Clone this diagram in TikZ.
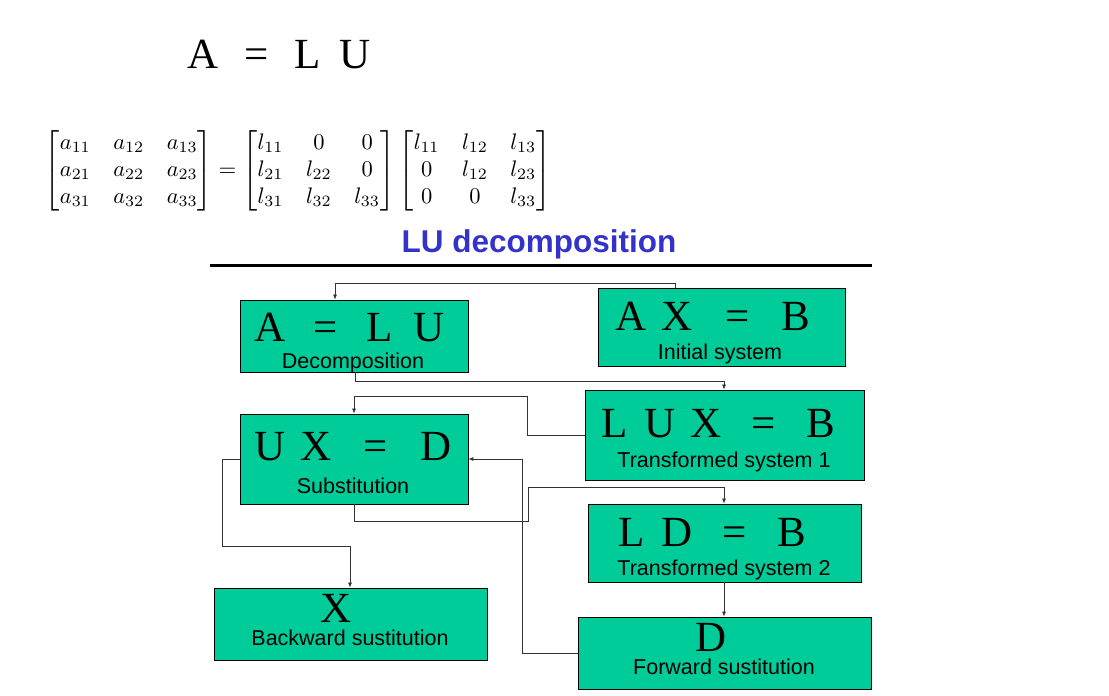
\documentclass[tikz,border=0pt]{standalone}
\usepackage{amsmath}
\usepackage{graphicx}
\usepackage{fontspec}
\setmainfont{Liberation Serif}
\newfontfamily\lsans{Liberation Sans}
\definecolor{boxg}{HTML}{00CC99}
\definecolor{ttl}{HTML}{3333CC}
\usetikzlibrary{arrows.meta}
\begin{document}
\begin{tikzpicture}[x=1pt,y=-1pt,
  box/.style={draw=black,fill=boxg,line width=0.8pt,inner sep=0pt},
  big/.style={font=\fontsize{43}{43}\selectfont,inner sep=0pt},
  lab/.style={font=\lsans\fontsize{21.5}{21.5}\selectfont,inner sep=0pt},
  con/.style={draw=black!80,line width=0.7pt},
  arr/.style={con,-{Latex[length=5pt,width=4pt]}}]
\useasboundingbox (0,0) rectangle (1109,696);
% top
\node[big] (top) at (279,55) {A\hspace{0.6em}=\hspace{0.6em}L\hspace{0.45em}U};
\node (mat) at (298,171) {\scalebox{2.25}{$\begin{bmatrix}a_{11}&a_{12}&a_{13}\\a_{21}&a_{22}&a_{23}\\a_{31}&a_{32}&a_{33}\end{bmatrix}=\begin{bmatrix}l_{11}&0&0\\l_{21}&l_{22}&0\\l_{31}&l_{32}&l_{33}\end{bmatrix}\begin{bmatrix}l_{11}&l_{12}&l_{13}\\0&l_{12}&l_{23}\\0&0&l_{33}\end{bmatrix}$}};
\node[font=\lsans\bfseries\fontsize{31.5}{31.5}\selectfont,text=ttl,inner sep=0pt] (title) at (539,244) {LU decomposition};
\coordinate (r1) at (210,265); \coordinate (r2) at (872,265);
\draw[line width=3pt] (r1) -- (r2);
% boxes
\node[box,minimum width=228,minimum height=72] (dec) at (354,336) {};
\node[box,minimum width=247,minimum height=78] (ini) at (721.5,327) {};
\node[box,minimum width=279,minimum height=90] (t1) at (724.5,435) {};
\node[box,minimum width=228,minimum height=90] (sub) at (354,459) {};
\node[box,minimum width=273,minimum height=78] (t2) at (724.5,543) {};
\node[box,minimum width=273,minimum height=72] (bk) at (350.5,624) {};
\node[box,minimum width=293,minimum height=72] (fw) at (724.5,653) {};
% texts
\node[big] (decF) at (350,328) {A\hspace{0.65em}=\hspace{0.65em}L\hspace{0.5em}U};
\node[lab] (decL) at (353,363) {Decomposition};
\node[big] (iniF) at (713,316) {A\hspace{0.35em}X\hspace{0.75em}=\hspace{0.75em}B};
\node[big] at (0,0) {};
\node[lab] (iniL) at (720,354) {Initial system};
\node[big] (t1F) at (718,424) {L\hspace{0.4em}U\hspace{0.35em}X\hspace{0.7em}=\hspace{0.7em}B};
\node[lab] (t1L) at (724,462) {Transformed system 1};
\node[big] (subF) at (353,447) {U\hspace{0.35em}X\hspace{0.75em}=\hspace{0.75em}D};
\node[lab] (subL) at (353,486) {Substitution};
\node[big] (t2F) at (712,532) {L\hspace{0.4em}D\hspace{0.7em}=\hspace{0.7em}B};
\node[lab] (t2L) at (724,570) {Transformed system 2};
\node[big] (bkF) at (336,608) {X};
\node[lab] (bkL) at (350,638) {Backward sustitution};
\node[big] (fwF) at (711,637) {D};
\node[lab] (fwL) at (724,667) {Forward sustitution};
% connectors
\draw[arr] (ini.north -| 675,0) -- (675,283) -- (335,283) -- (dec.north -| 335,0);
\draw[arr] (dec.south -| 355,0) -- (355,381) -- (724,381) -- (t1.north -| 724,0);
\draw[arr] (t1.west) -- (527,435) -- (527,396) -- (354,396) -- (sub.north);
\draw[arr] (sub.south) -- (354,521) -- (528,521) -- (528,487) -- (724,487) -- (t2.north -| 724,0);
\draw[arr] (t2.south -| 724,0) -- (fw.north -| 724,0);
\draw[arr] (fw.west) -- (522,653) -- (522,459) -- (sub.east);
\draw[arr] (sub.west) -- (222,459) -- (222,546) -- (350,546) -- (bk.north -| 350,0);
\end{tikzpicture}
\end{document}
